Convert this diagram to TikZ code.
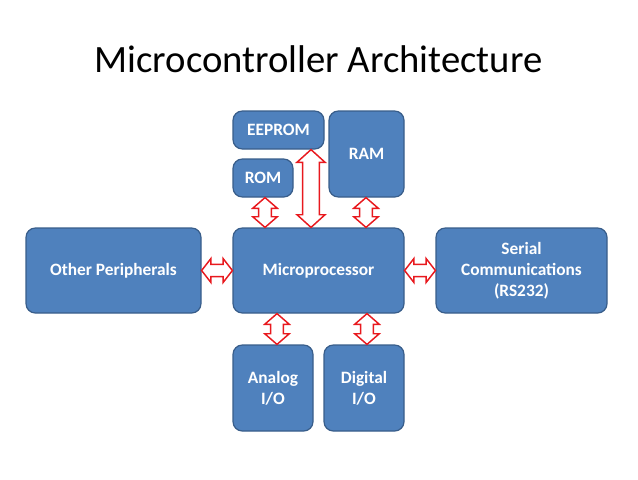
\documentclass[tikz,border=0pt]{standalone}
\usepackage{fontspec}
\setmainfont{Carlito}
\usetikzlibrary{calc}
\definecolor{boxblue}{HTML}{4F81BD}
\definecolor{boxline}{HTML}{385D8A}
\definecolor{linkred}{HTML}{E8191E}
\newcommand\twoway[5]{%
  \draw[link](#1)--($(#1)!#5!(#2)!#3!90:(#2)$)--($(#1)!#5!(#2)!#4!90:(#2)$)--($(#2)!#5!(#1)!#4!-90:(#1)$)--($(#2)!#5!(#1)!#3!-90:(#1)$)
    --(#2)--($(#2)!#5!(#1)!#3!90:(#1)$)--($(#2)!#5!(#1)!#4!90:(#1)$)--($(#1)!#5!(#2)!#4!-90:(#2)$)--($(#1)!#5!(#2)!#3!-90:(#2)$)--cycle;}
\begin{document}
\begin{tikzpicture}[x=.75pt,y=-.75pt,line join=miter,
    block/.style={draw=boxline,fill=boxblue,line width=.9pt,rounded corners=7pt,text=white,font=\bfseries\fontsize{13}{15.75}\selectfont,align=center,inner sep=0pt},
    link/.style={draw=linkred,fill=white,line width=1.1pt}]
    \useasboundingbox(0,0)rectangle(638,479);
    \node[font=\fontsize{29}{35}\selectfont,anchor=base](title)at(318.5,72){Microcontroller Architecture};
    \foreach \n/\x/\y/\w/\h/\t in{eeprom/278.5/130/91/38/EEPROM,rom/263/178/60/38/ROM,ram/366.5/154/75/86/RAM,mp/318.5/270.5/171/85/Microprocessor,other/113.5/270.5/175/85/Other Peripherals,serial/521.5/270.5/171/85/{Serial\\Communications\\(RS232)},analog/273/388/80/86/{Analog\\I/O},digital/364/388/80/86/{Digital\\I/O}}
    \node[block,minimum width=\w*.75pt,minimum height=\h*.75pt](\n)at(\x,\y){\t};
    \foreach \x/\a/\b in{265/rom/mp,366/ram/mp,277/mp/analog,367/mp/digital}
    \twoway{\x,0 |- \a.south}{\x,0 |- \b.north}{9.2pt}{4.8pt}{8pt};
    \twoway{311,0 |- eeprom.south}{311,0 |- mp.north}{10.5pt}{6.3pt}{9.5pt};
    \twoway{other.east}{mp.west}{9pt}{4.6pt}{7pt};
    \twoway{mp.east}{serial.west}{9pt}{4.6pt}{7pt};
\end{tikzpicture}
\end{document}
